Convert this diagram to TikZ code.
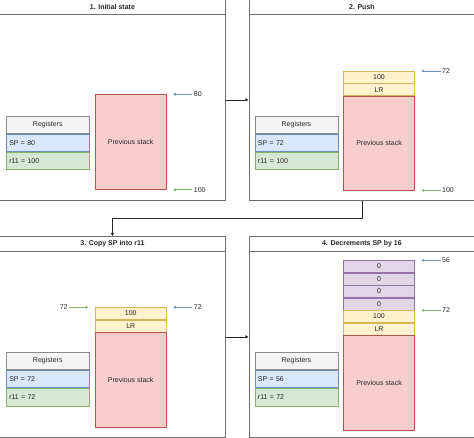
\documentclass[tikz,border=0pt]{standalone}
\usepackage{fontspec}
\setmainfont{Liberation Sans}
\usetikzlibrary{arrows.meta,positioning}
\definecolor{frameGray}{HTML}{6E6E6E}
\definecolor{headFill}{HTML}{F5F5F5}
\definecolor{headLine}{HTML}{8C8C8C}
\definecolor{spFill}{HTML}{DAE8FC}
\definecolor{spLine}{HTML}{6C8EBF}
\definecolor{rFill}{HTML}{D5E8D4}
\definecolor{rLine}{HTML}{82B366}
\definecolor{oldFill}{HTML}{F8CECC}
\definecolor{oldLine}{HTML}{B85450}
\definecolor{pushFill}{HTML}{FFF2CC}
\definecolor{pushLine}{HTML}{D6B656}
\definecolor{zeroFill}{HTML}{E1D5E7}
\definecolor{zeroLine}{HTML}{9673A6}

\begin{document}
\begin{tikzpicture}[x=1pt,y=-1pt,font=\fontsize{7}{8}\selectfont,text=black!85,
panel/.style={draw=frameGray,line width=0.8pt,fill=white,minimum width=226pt,minimum height=201pt,anchor=north west,inner sep=0pt},
title/.style={draw=frameGray,line width=0.8pt,minimum width=226pt,minimum height=15pt,anchor=north west,inner sep=0pt,font=\fontsize{7}{8}\selectfont\bfseries},
reg/.style={draw,line width=0.5pt,text width=77pt,inner xsep=3pt,inner ysep=0pt,minimum height=17.6pt,align=left},
reghead/.style={reg,anchor=north west,align=center,fill=headFill,draw=headLine},
spcell/.style={reg,fill=spFill,draw=spLine},
rcell/.style={reg,fill=rFill,draw=rLine},
cell/.style={draw,line width=0.5pt,minimum width=71pt,minimum height=12pt,inner sep=0pt},
oldcell/.style={cell,fill=oldFill,draw=oldLine,minimum height=94.5pt},
pushcell/.style={cell,fill=pushFill,draw=pushLine},
zerocell/.style={cell,fill=zeroFill,draw=zeroLine},
lbl/.style={inner sep=1.5pt},
ptr/.style={line width=0.6pt,-{Triangle[length=2.6pt,width=2.6pt]}},
link/.style={draw=black!85,line width=0.7pt,-{Triangle[length=3.2pt,width=3.2pt]}}]
\useasboundingbox (0,0) rectangle (474,438);

% the four steps
\node[panel] (p1) at (-1,-1) {};
\node[title] (t1) at (-1,-1) {1. Initial state};
\node[panel] (p2) at (248.5,-1) {};
\node[title] (t2) at (248.5,-1) {2. Push};
\node[panel] (p3) at (-1,236) {};
\node[title] (t3) at (-1,236) {3. Copy SP into r11};
\node[panel] (p4) at (248.5,236) {};
\node[title] (t4) at (248.5,236) {4. Decrements SP by 16};

\draw[link] (p1) -- (p2);
\draw[link] (p2.south) -- ++(0,18) -| (p3.north);
\draw[link] (p3) -- (p4);

% step 1
\node[reghead] (r1) at (6,115.7) {Registers};
\node[spcell,below=0pt of r1] (r1sp) {SP = 80};
\node[rcell,below=0pt of r1sp] (r1r) {r11 = 100};
\node[oldcell,anchor=north west,minimum height=95pt] (s1old) at (95,94.3) {Previous stack};
\coordinate[right=6.7pt of s1old.north east] (c1sp);
\node[lbl,right=19pt of c1sp] (l1sp) {80};
\draw[ptr,draw=spLine] (l1sp) -- (c1sp);
\coordinate[right=6.7pt of s1old.south east] (c1r);
\node[lbl,right=19pt of c1r] (l1r) {100};
\draw[ptr,draw=rLine] (l1r) -- (c1r);

% step 2
\node[reghead] (r2) at (254.7,115.7) {Registers};
\node[spcell,below=0pt of r2] (r2sp) {SP = 72};
\node[rcell,below=0pt of r2sp] (r2r) {r11 = 100};
\node[pushcell,anchor=north west] (s2top) at (343.3,71) {100};
\node[pushcell,below=0pt of s2top] (s2lr) {LR};
\node[oldcell,below=0pt of s2lr,minimum height=94pt] (s2old) {Previous stack};
\coordinate[right=6.7pt of s2top.north east] (c2sp);
\node[lbl,right=19pt of c2sp] (l2sp) {72};
\draw[ptr,draw=spLine] (l2sp) -- (c2sp);
\coordinate[right=6.7pt of s2old.south east] (c2r);
\node[lbl,right=19pt of c2r] (l2r) {100};
\draw[ptr,draw=rLine] (l2r) -- (c2r);

% step 3
\node[reghead] (r3) at (6,351.7) {Registers};
\node[spcell,below=0pt of r3] (r3sp) {SP = 72};
\node[rcell,below=0pt of r3sp] (r3r) {r11 = 72};
\node[pushcell,anchor=north west] (s3top) at (95,307.3) {100};
\node[pushcell,below=0pt of s3top] (s3lr) {LR};
\node[oldcell,below=0pt of s3lr] (s3old) {Previous stack};
\coordinate[right=6.7pt of s3top.north east] (c3sp);
\node[lbl,right=19pt of c3sp] (l3sp) {72};
\draw[ptr,draw=spLine] (l3sp) -- (c3sp);
\coordinate[left=6.7pt of s3top.north west] (c3r);
\node[lbl,left=19pt of c3r] (l3r) {72};
\draw[ptr,draw=rLine] (l3r) -- (c3r);

% step 4
\node[reghead] (r4) at (254.7,351.7) {Registers};
\node[spcell,below=0pt of r4] (r4sp) {SP = 56};
\node[rcell,below=0pt of r4sp] (r4r) {r11 = 72};
\node[zerocell,anchor=north west] (s4z1) at (343.3,260.3) {0};
\node[zerocell,below=0pt of s4z1] (s4z2) {0};
\node[zerocell,below=0pt of s4z2] (s4z3) {0};
\node[zerocell,below=0pt of s4z3] (s4z4) {0};
\node[pushcell,below=0pt of s4z4] (s4top) {100};
\node[pushcell,below=0pt of s4top] (s4lr) {LR};
\node[oldcell,below=0pt of s4lr] (s4old) {Previous stack};
\coordinate[right=6.7pt of s4z1.north east] (c4sp);
\node[lbl,right=19pt of c4sp] (l4sp) {56};
\draw[ptr,draw=spLine] (l4sp) -- (c4sp);
\coordinate[right=6.7pt of s4top.north east] (c4r);
\node[lbl,right=19pt of c4r] (l4r) {72};
\draw[ptr,draw=rLine] (l4r) -- (c4r);
\end{tikzpicture}
\end{document}
